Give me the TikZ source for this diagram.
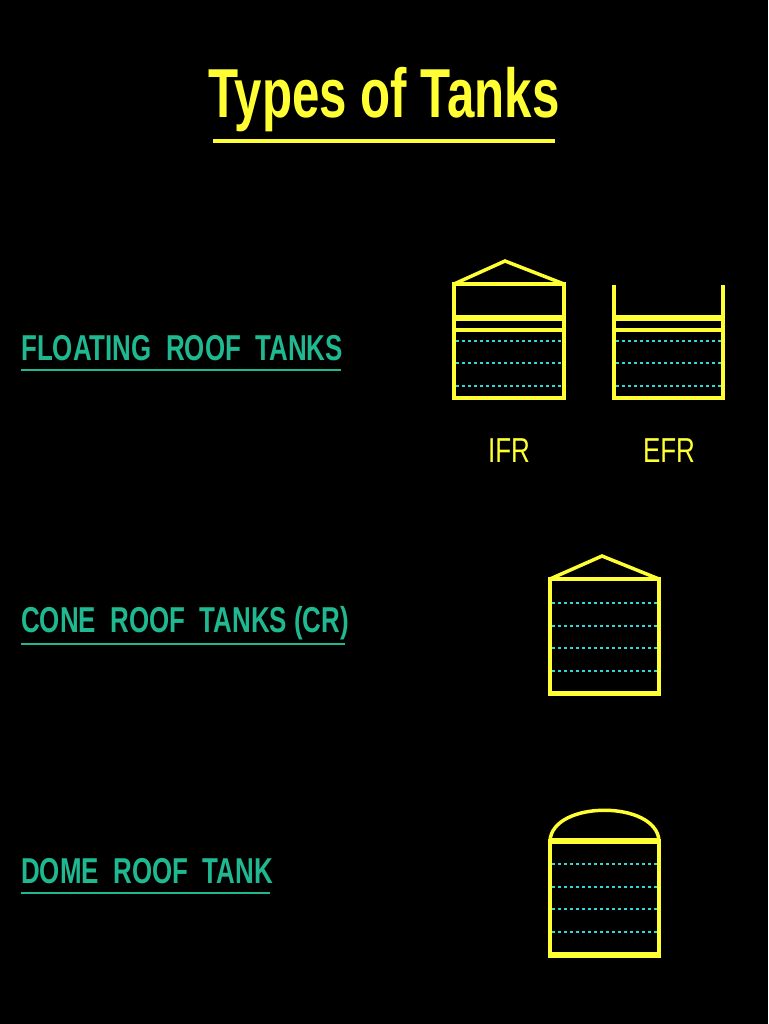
\documentclass[tikz,border=0pt]{standalone}
\usepackage{fontspec}
\setmainfont{Liberation Sans}
\begin{document}
\begin{tikzpicture}[x=0.75pt,y=-0.75pt,
  tk/.style={draw=yel,line width=2.6pt},
  liq/.style={draw=cy,line width=2pt,dash pattern=on 2pt off 2.5pt},
  lbl/.style={anchor=west,text=grn,font=\bfseries\fontsize{27}{27}\selectfont,xscale=0.72,inner sep=0pt},
  tag/.style={text=yel,font=\fontsize{26}{26}\selectfont,xscale=0.75}]
\definecolor{yel}{HTML}{FFFF33}
\definecolor{cy}{HTML}{33D6D6}
\definecolor{grn}{HTML}{1FB890}
\fill[black] (0,0) rectangle (768,1024);
\useasboundingbox (0,0) rectangle (768,1024);
\node[text=yel,font=\bfseries\fontsize{52}{52}\selectfont,xscale=0.71] (title) at (384,100) {Types of Tanks};
\draw[yel,line width=3.5pt] (213,141) -- (555,141);
\node[lbl] (fl) at (21,348) {FLOATING\ \ ROOF\ \ TANKS};
\draw[grn,line width=2.2pt] (21,370) -- (341,370);
\node[lbl] (cr) at (21,623) {CONE\ \ ROOF\ \ TANKS (CR)};
\draw[grn,line width=2.2pt] (21,644) -- (345,644);
\node[lbl] (dr) at (21,871) {DOME\ \ ROOF\ \ TANK};
\draw[grn,line width=2.2pt] (21,893) -- (270,893);
% IFR
\draw[tk] (454,284) -- (454,398) -- (564,398) -- (564,284) -- cycle;
\draw[tk] (454,284) -- (505,261) -- (564,284);
\draw[yel,line width=4.5pt] (454,318) -- (564,318);
\draw[tk] (454,330) -- (564,330);
\foreach \y in {341,363,386} \draw[liq] (456,\y) -- (563,\y);
\node[tag] (ifr) at (509,451) {IFR};
% EFR
\draw[tk] (614,285) -- (614,398) -- (723,398) -- (723,285);
\draw[yel,line width=4.5pt] (614,318) -- (723,318);
\draw[tk] (614,330) -- (723,330);
\foreach \y in {341,363,386} \draw[liq] (616,\y) -- (722,\y);
\node[tag] (efr) at (669,451) {EFR};
% Cone
\draw[tk] (550,579) -- (550,694) -- (659,694) -- (659,579) -- cycle;
\draw[yel,line width=3.5pt] (550,693) -- (659,693);
\draw[tk] (550,579) -- (602,556) -- (659,579);
\foreach \y in {603,626,648,671} \draw[draw=cy,line width=1.3pt,dash pattern=on 2.5pt off 2pt] (552,\y) -- (658,\y);
% Dome
\draw[tk] (550,841) -- (550,956) -- (659,956) -- (659,841) -- cycle;
\draw[yel,line width=4pt] (550,841) -- (659,841);
\draw[yel,line width=4pt] (550,955) -- (659,955);
\draw[tk] (550,841) .. controls (552,800) and (657,800) .. (659,841);
\foreach \y in {864,887,909,932} \draw[liq] (552,\y) -- (658,\y);
\end{tikzpicture}
\end{document}
